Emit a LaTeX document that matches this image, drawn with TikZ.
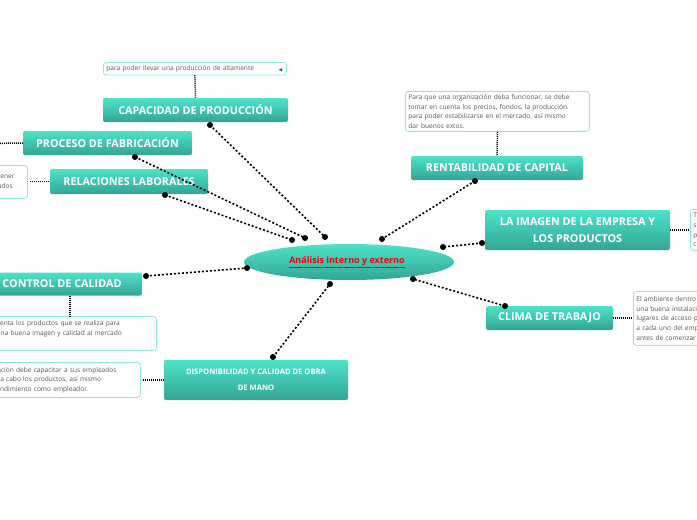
\documentclass[tikz,border=0pt]{standalone}
\usepackage{fontspec}
\usetikzlibrary{shapes.geometric}
\usepackage{amssymb}
\setmainfont{Open Sans}
\begin{document}
\begin{tikzpicture}[x=1pt,y=-1pt,
  box/.style={draw=none,rounded corners=2pt,top color=teal1,bottom color=teal2,text=white,font=\bfseries\fontsize{10.8}{12}\selectfont,align=center,inner sep=0pt},
  note/.style={draw=noteb,line width=0.8pt,rounded corners=3pt,fill=white,text=gray!70!black,font=\fontsize{6.6}{9.6}\selectfont,align=left,inner sep=3pt,anchor=north west,text width=#1},
  con/.style={dash pattern=on 2pt off 2pt,line width=1.6pt},
  dot/.style={circle,fill=black,inner sep=0pt,minimum size=6pt},
  link/.style={dash pattern=on 1pt off 1pt,line width=1.5pt}]
\definecolor{teal1}{HTML}{4DE3C9}
\definecolor{teal2}{HTML}{33A595}
\definecolor{noteb}{HTML}{8CE9DA}
\useasboundingbox (0,0) rectangle (697,520);
\clip (0,0) rectangle (697,520);
% center
\node[ellipse,top color=teal1,bottom color=teal2,minimum width=210,minimum height=36,inner sep=0pt] (c) at (349,262) {};
\node[text=red!75!purple,font=\bfseries\fontsize{9}{10}\selectfont] (ct) at (347,262) {\underline{Análisis interno y externo}};
% nodes
\node[box,minimum width=185,minimum height=24] (cap) at (195.5,110) {CAPACIDAD DE PRODUCCIÓN};
\node[note=177pt] (ncap) at (103,62) {para poder llevar una producción de altamente\hfill\raisebox{-1pt}{\tiny$\blacktriangleleft$}};
\node[box,minimum width=169,minimum height=24] (pro) at (107.5,143) {PROCESO DE FABRICACIÓN};
\node[note=40pt,minimum height=24,inner sep=0pt] (npro) at (-45,131) {};
\node[box,minimum width=158,minimum height=25] (rel) at (129,181.5) {RELACIONES LABORALES};
\node[note=60pt,minimum height=33,inner sep=0pt] (nrel) at (-33,165) {};
\node[font=\fontsize{6.6}{9.6}\selectfont,text=gray!70!black,align=left,anchor=east] at (18,181.5) {tener\\ados};
\node[box,minimum width=160,minimum height=23] (ctl) at (62,284) {CONTROL DE CALIDAD};
\node[note=190pt,minimum height=34] (nctl) at (-40,316) {Tener en cuenta los productos que se realiza para\\poder dar una buena imagen y calidad al mercado\\global.};
\node[box,minimum width=184,minimum height=40,font=\bfseries\fontsize{7.6}{16}\selectfont] (dis) at (256,380) {DISPONIBILIDAD Y CALIDAD DE OBRA\\DE MANO};
\node[note=172pt,minimum height=35] (ndis) at (-38,362) {La organización debe capacitar a sus empleados\\para llevar a cabo los productos, así mismo\\un buen rendimiento como empleador.};
\node[box,minimum width=172,minimum height=24] (ren) at (497,168) {RENTABILIDAD DE CAPITAL};
\node[note=178pt] (nren) at (405,91) {Para que una organización deba funcionar, se debe\\tomar en cuenta los precios, fondos, la producción.\\para poder estabilizarse en el mercado, así mismo\\dar buenos extos.};
\node[box,minimum width=185,minimum height=40,font=\bfseries\fontsize{10.8}{17}\selectfont] (ima) at (577.5,230) {LA IMAGEN DE LA EMPRESA Y\\LOS PRODUCTOS};
\node[note=80pt,minimum height=41] (nima) at (690,209) {T\\s\\p\\c};
\node[box,minimum width=127,minimum height=24] (cli) at (549.5,318) {CLIMA DE TRABAJO};
\node[note=90pt,minimum height=54] (ncli) at (633,291) {El ambiente dentro de\\una buena instalación\\lugares de acceso para\\a cada uno del empleado\\antes de comenzar};
% note links
\draw[link] (ncap.south) -- (cap.north);
\draw[link] (npro.east) -- (pro.west);
\draw[link] (30,181.5) -- (rel.west);
\draw[link] (70,295.5) -- (70,316);
\draw[link] (143,380) -- (dis.west);
\draw[link] (nren.south) -- (ren.north);
\draw[link] (ima.east) -- (690,230);
\draw[link] (cli.east) -- (633,318);
% connectors
\coordinate (a1) at (210,125); \coordinate (b1) at (325,237);
\coordinate (a2) at (135,157); \coordinate (b2) at (305,238);
\coordinate (a3) at (165,195); \coordinate (b3) at (292,240);
\coordinate (a4) at (146,276); \coordinate (b4) at (247,268);
\coordinate (a5) at (273,357); \coordinate (b5) at (330,284);
\coordinate (a6) at (475,181); \coordinate (b6) at (382,239);
\coordinate (a7) at (482,243); \coordinate (b7) at (443,247);
\coordinate (a8) at (505,306); \coordinate (b8) at (413,279);
\foreach \i in {1,...,8}{
  \draw[con] (a\i) -- (b\i);
  \node[dot] at (a\i) {}; \node[dot] at (b\i) {};
}
\end{tikzpicture}
\end{document}
